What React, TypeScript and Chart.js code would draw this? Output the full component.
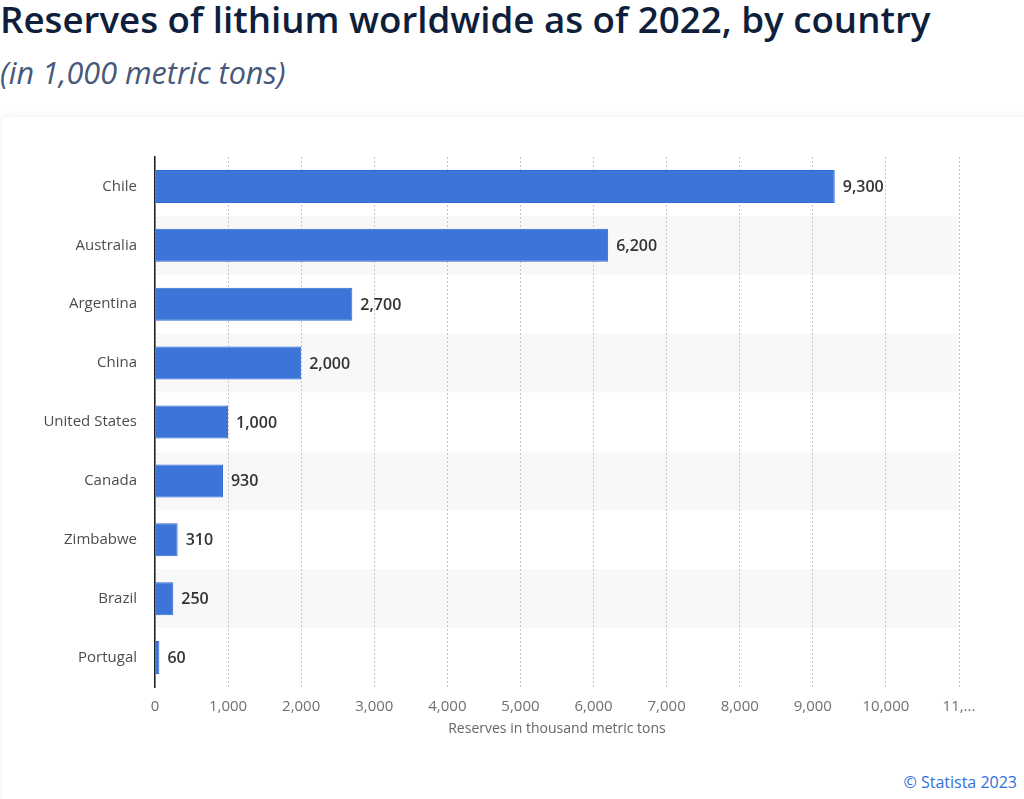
import React, { useEffect, useRef } from "react";
import { Chart, registerables } from "chart.js";

Chart.register(...registerables);

const countries = [
  "Chile",
  "Australia",
  "Argentina",
  "China",
  "United States",
  "Canada",
  "Zimbabwe",
  "Brazil",
  "Portugal",
];
const reserves = [9300, 6200, 2700, 2000, 1000, 930, 310, 250, 60];
const xTickLabels = [
  "0",
  "1,000",
  "2,000",
  "3,000",
  "4,000",
  "5,000",
  "6,000",
  "7,000",
  "8,000",
  "9,000",
  "10,000",
  "11,...",
];
const axisTitle = "Reserves in thousand metric tons";

const FONT = "'Open Sans', 'Noto Sans', sans-serif";

const fmt = (v: number) => v.toLocaleString("en-US");

// Alternating light bands behind every second category row
const rowBands = {
  id: "rowBands",
  beforeDraw(chart: any) {
    const { ctx, chartArea, scales } = chart;
    const y = scales.y;
    const n = countries.length;
    const step = chartArea.height / n;
    ctx.save();
    ctx.fillStyle = "#f8f8f8";
    for (let i = 1; i < n; i += 2) {
      const cy = y.getPixelForValue(i);
      ctx.fillRect(chartArea.left, cy - step / 2, chartArea.right - chartArea.left, step);
    }
    ctx.restore();
  },
};

// Value labels at the end of each bar, plus the x axis caption
const barLabels = {
  id: "barLabels",
  afterDatasetsDraw(chart: any) {
    const { ctx, chartArea } = chart;
    const meta = chart.getDatasetMeta(0);
    ctx.save();
    ctx.font = `600 16px ${FONT}`;
    ctx.fillStyle = "#333333";
    ctx.textAlign = "left";
    ctx.textBaseline = "middle";
    meta.data.forEach((bar: any, i: number) => {
      ctx.fillText(fmt(reserves[i]), bar.x + 8, bar.y + 1);
    });
    ctx.font = `14px ${FONT}`;
    ctx.fillStyle = "#666666";
    ctx.textAlign = "center";
    ctx.fillText(axisTitle, (chartArea.left + chartArea.right) / 2, chartArea.bottom + 42);
    ctx.restore();
  },
};

function ReservesChart() {
  const ref = useRef<HTMLCanvasElement | null>(null);
  useEffect(() => {
    if (!ref.current) return;
    const chart = new Chart(ref.current, {
      type: "bar",
      data: {
        labels: countries,
        datasets: [
          {
            data: reserves,
            backgroundColor: "#3c74d7",
            borderColor: "#2f69d9",
            borderWidth: 1,
            barPercentage: 0.56,
            categoryPercentage: 1,
          },
        ],
      },
      options: {
        indexAxis: "y",
        animation: false,
        responsive: false,
        maintainAspectRatio: false,
        layout: { padding: { top: 40, right: 67, bottom: 0, left: 0 } },
        plugins: {
          legend: { display: false },
          tooltip: { enabled: false },
        },
        scales: {
          x: {
            min: 0,
            max: 11000,
            afterBuildTicks(scale: any) {
              scale.ticks = xTickLabels.map((_, i) => ({ value: i * 1000 }));
            },
            afterFit(scale: any) {
              scale.height = 70;
            },
            ticks: {
              padding: 11,
              color: "#707070",
              font: { family: FONT, size: 15 },
              maxRotation: 0,
              autoSkip: false,
              callback: (_v: any, i: number) => xTickLabels[i],
            },
            grid: {
              color: "#c6c6c6",
              lineWidth: 1,
              drawTicks: false,
            },
            border: { display: false, dash: [2, 2] },
          },
          y: {
            afterFit(scale: any) {
              scale.width = 153;
            },
            ticks: {
              padding: 18,
              color: "#4d4d4d",
              font: { family: FONT, size: 15 },
            },
            grid: { display: false, drawTicks: false },
            border: { display: true, color: "#1e1e1e", width: 1.5 },
          },
        },
      },
      plugins: [rowBands, barLabels],
    } as any);
    return () => chart.destroy();
  }, []);
  return (
    <canvas
      ref={ref}
      width={1024}
      height={640}
      style={{ position: "absolute", left: 0, top: 0, width: 1024, height: 640 }}
    />
  );
}

export default function App() {
  useEffect(() => {
    document.body.style.margin = "0";
  }, []);
  return (
    <div
      style={{
        position: "relative",
        width: 1024,
        height: 799,
        overflow: "hidden",
        background: "#ffffff",
        fontFamily: FONT,
      }}
    >
      <div
        style={{
          position: "absolute",
          left: 0,
          top: -6,
          fontSize: 36.7,
          fontWeight: 600,
          color: "#0f1f3b",
          whiteSpace: "nowrap",
        }}
      >
        Reserves of lithium worldwide as of 2022, by country
      </div>
      <div
        style={{
          position: "absolute",
          left: 0,
          top: 51,
          fontSize: 30.6,
          fontStyle: "italic",
          color: "#46597a",
          whiteSpace: "nowrap",
        }}
      >
        (in 1,000 metric tons)
      </div>
      <div
        style={{
          position: "absolute",
          left: 2,
          top: 117,
          width: 1040,
          height: 700,
          background: "#ffffff",
          borderRadius: 6,
          boxShadow: "0 0 10px rgba(20,30,60,0.08)",
        }}
      >
        <ReservesChart />
      </div>
      <div
        style={{
          position: "absolute",
          right: 7,
          top: 771,
          fontSize: 16,
          color: "#2f6fe0",
          whiteSpace: "nowrap",
        }}
      >
        © Statista 2023
      </div>
    </div>
  );
}
